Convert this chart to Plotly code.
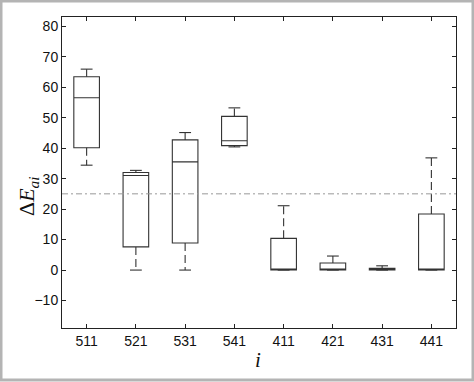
import plotly.graph_objects as go

categories = ["511", "521", "531", "541", "411", "421", "431", "441"]
lower_whisker = [34.4, 0.0, 0.0, 40.4, 0.0, 0.0, 0.0, 0.0]
q1 = [40.1, 7.6, 8.9, 40.8, 0.0, 0.0, 0.0, 0.0]
median = [56.5, 31.0, 35.5, 42.4, 0.0, 0.0, 0.0, 0.0]
q3 = [63.4, 32.0, 42.7, 50.4, 10.4, 2.3, 0.6, 18.4]
upper_whisker = [65.9, 32.7, 45.1, 53.2, 21.1, 4.6, 1.4, 36.8]
threshold = 25
y_ticks = [-10, 0, 10, 20, 30, 40, 50, 60, 70, 80]

W, H = 474, 382
ML, MR, MT, MB = 62, 18, 17, 54
PW, PH = W - ML - MR, H - MT - MB

xs = list(range(len(categories)))
line_col = "#333333"
box_w = 0.52
cap_hw = 0.12

fig = go.Figure()

# Whiskers (dashed)
wx, wy = [], []
for i in xs:
    if upper_whisker[i] > q3[i]:
        wx += [i, i, None]
        wy += [q3[i], upper_whisker[i], None]
    if lower_whisker[i] < q1[i]:
        wx += [i, i, None]
        wy += [q1[i], lower_whisker[i], None]
fig.add_trace(go.Scatter(x=wx, y=wy, mode="lines",
                         line=dict(color=line_col, width=1.1, dash="8px,4px"),
                         hoverinfo="skip", showlegend=False))

# Caps
cx, cy = [], []
for i in xs:
    for v in (upper_whisker[i], lower_whisker[i]):
        cx += [i - cap_hw, i + cap_hw, None]
        cy += [v, v, None]
fig.add_trace(go.Scatter(x=cx, y=cy, mode="lines",
                         line=dict(color=line_col, width=1.1),
                         hoverinfo="skip", showlegend=False))

# Boxes
fig.add_trace(go.Box(x=xs, q1=q1, median=median, q3=q3,
                     lowerfence=q1, upperfence=q3,
                     width=box_w, whiskerwidth=0,
                     fillcolor="white", line=dict(color=line_col, width=1.1),
                     boxpoints=False, showlegend=False))

# Reference line
fig.add_trace(go.Scatter(x=[-0.5, len(categories) - 0.5], y=[threshold, threshold],
                         mode="lines",
                         line=dict(color="#999999", width=1, dash="6px,3px,2px,3px"),
                         hoverinfo="skip", showlegend=False))

axis_common = dict(showline=True, linecolor="#222222", linewidth=1, mirror="ticks",
                   ticks="inside", ticklen=4, tickcolor="#222222", showgrid=False,
                   zeroline=False,
                   tickfont=dict(family="Liberation Sans, Arial", size=14, color="#111111"))

fig.update_layout(
    width=W, height=H,
    margin=dict(l=ML, r=MR, t=MT, b=MB),
    paper_bgcolor="white", plot_bgcolor="white",
    xaxis=dict(range=[-0.5, len(categories) - 0.5], tickvals=xs, ticktext=categories,
               **axis_common),
    yaxis=dict(range=[-19, 83], tickvals=y_ticks, **axis_common),
    annotations=[
        dict(text="Δ<i>E</i><sub><i>ai</i></sub>", xref="paper", yref="paper",
             x=(28 - ML) / PW, y=(H - MB - 196) / PH, textangle=-90, showarrow=False,
             font=dict(family="Liberation Serif, Times New Roman", size=22, color="#111111"),
             xanchor="center", yanchor="middle"),
        dict(text="<i>i</i>", xref="paper", yref="paper",
             x=(258 - ML) / PW, y=(H - MB - 360) / PH, showarrow=False,
             font=dict(family="Liberation Serif, Times New Roman", size=21, color="#111111"),
             xanchor="center", yanchor="middle"),
    ],
    shapes=[
        dict(type="rect", xref="paper", yref="paper",
             x0=(1 - ML) / PW, x1=(W - 1 - ML) / PW,
             y0=(H - MB - (H - 2)) / PH, y1=(H - MB - 1) / PH,
             line=dict(color="#b4b4b4", width=3), fillcolor="rgba(0,0,0,0)", layer="below"),
    ],
)

fig.write_html("out.html", config={"displayModeBar": False},
               post_script="document.body.style.margin='0';document.body.style.overflow='hidden';")
